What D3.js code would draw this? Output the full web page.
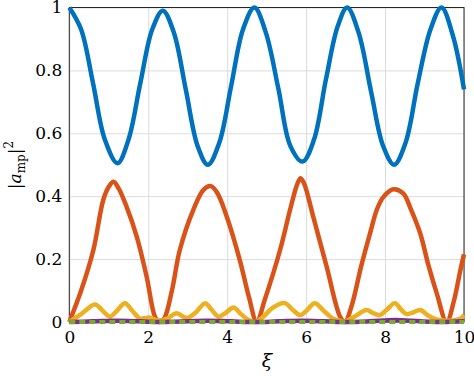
<!DOCTYPE html>
<html>
<head>
<meta charset="utf-8">
<script src="https://cdn.jsdelivr.net/npm/d3@7"></script>
<style>
  body { margin: 0; background: #fff; }
  text { font-family: "DejaVu Serif", serif; }
</style>
</head>
<body>
<div id="chart"></div>
<script>
// tick labels
const xiTicks = [0, 2, 4, 6, 8, 10]
const ampTicks = [0, 0.2, 0.4, 0.6, 0.8, 1]

// mode 1 (blue)
const blueXi  = [0, 0.3, 0.6, 0.9, 1.22, 1.5, 1.8, 2.1, 2.37, 2.65, 2.95, 3.25, 3.51, 3.8, 4.1, 4.4, 4.69, 4.98, 5.3, 5.6, 5.91, 6.2, 6.5, 6.8, 7.04, 7.33, 7.65, 7.95, 8.23, 8.52, 8.83, 9.15, 9.43, 9.72, 10]
const blueAmp = [1.0, 0.93, 0.76, 0.58, 0.505, 0.58, 0.76, 0.93, 0.99, 0.92, 0.74, 0.56, 0.50, 0.57, 0.75, 0.93, 1.0, 0.92, 0.74, 0.56, 0.51, 0.58, 0.77, 0.94, 1.0, 0.92, 0.73, 0.56, 0.50, 0.57, 0.76, 0.93, 1.0, 0.91, 0.74]

// mode 2 (orange)
const orangeXi  = [0, 0.3, 0.61, 0.86, 1.0, 1.12, 1.25, 1.45, 1.71, 1.96, 2.17, 2.28, 2.4, 2.6, 2.8, 3.14, 3.4, 3.59, 3.75, 3.99, 4.32, 4.55, 4.75, 4.95, 5.34, 5.6, 5.78, 5.86, 5.95, 6.18, 6.52, 6.86, 6.98, 7.15, 7.4, 7.62, 7.8, 7.96, 8.21, 8.46, 8.65, 8.89, 9.1, 9.31, 9.56, 9.75, 9.9, 10]
const orangeAmp = [0, 0.1, 0.229, 0.388, 0.43, 0.446, 0.425, 0.367, 0.271, 0.144, 0.017, 0, 0.01, 0.1, 0.229, 0.356, 0.42, 0.432, 0.41, 0.335, 0.197, 0.08, 0, 0.07, 0.229, 0.36, 0.44, 0.457, 0.44, 0.335, 0.176, 0.017, 0, 0.05, 0.18, 0.282, 0.36, 0.398, 0.422, 0.409, 0.36, 0.282, 0.18, 0.091, 0, 0.07, 0.16, 0.215]

// mode 3 (yellow)
const yellowXi  = [0, 0.3, 0.65, 0.85, 1.03, 1.2, 1.41, 1.6, 1.79, 1.95, 2.05, 2.2, 2.35, 2.5, 2.72, 2.9, 3.0, 3.2, 3.44, 3.6, 3.78, 3.95, 4.16, 4.35, 4.5, 4.7, 4.9, 5.15, 5.46, 5.65, 5.85, 6.0, 6.22, 6.45, 6.69, 6.85, 6.98, 7.2, 7.53, 7.7, 7.87, 8.05, 8.25, 8.4, 8.55, 8.7, 8.89, 9.1, 9.3, 9.45, 9.7, 9.9, 10]
const yellowAmp = [0, 0.025, 0.056, 0.035, 0.017, 0.035, 0.06, 0.035, 0.011, 0.013, 0.014, 0.006, 0.006, 0.012, 0.028, 0.016, 0.013, 0.03, 0.06, 0.04, 0.017, 0.028, 0.046, 0.025, 0.01, 0, 0.015, 0.045, 0.06, 0.04, 0.022, 0.035, 0.06, 0.035, 0.01, 0.004, 0.002, 0.015, 0.038, 0.028, 0.022, 0.04, 0.06, 0.04, 0.025, 0.03, 0.038, 0.02, 0.008, 0.005, 0.005, 0.01, 0.022]

// mode 4 (purple)
const purpleXi  = [0, 0.6, 1.2, 1.8, 2.3, 3.0, 3.5, 4.1, 4.7, 5.3, 5.9, 6.5, 7.0, 7.6, 8.25, 8.9, 9.5, 10]
const purpleAmp = [0, 0.002, 0.004, 0.002, 0, 0.002, 0.004, 0.002, 0, 0.002, 0.004, 0.002, 0, 0.002, 0.006, 0.002, 0, 0.002]

// mode 5 (green, dashed)
const greenXi  = [0, 10]
const greenAmp = [0, 0]

const series = [
  { xi: blueXi,   amp: blueAmp,   color: "#0072BD", w: 4.5 },
  { xi: orangeXi, amp: orangeAmp, color: "#D95319", w: 4.5 },
  { xi: yellowXi, amp: yellowAmp, color: "#EDB120", w: 4.5 },
  { xi: purpleXi, amp: purpleAmp, color: "#7E2F8E", w: 4.5 },
  { xi: greenXi,  amp: greenAmp,  color: "#77AC30", w: 4, dash: "6,4" }
]

const width = 474, height = 376
const pLeft = 69.3, pRight = 464, pTop = 7.5, pBottom = 322

const x = d3.scaleLinear().domain([0, 10]).range([pLeft, pRight])
const y = d3.scaleLinear().domain([0, 1]).range([pBottom, pTop])

const svg = d3.select("#chart").append("svg")
    .attr("width", width)
    .attr("height", height)

// grid lines
svg.append("g")
    .attr("transform", "translate(0," + pBottom + ")")
    .call(d3.axisBottom(x).tickValues(xiTicks).tickSize(-(pBottom - pTop)).tickFormat(""))
    .call(g => g.select(".domain").remove())
    .call(g => g.selectAll(".tick line").attr("stroke", "#dcdcdc").attr("stroke-width", 1))

svg.append("g")
    .attr("transform", "translate(" + pLeft + ",0)")
    .call(d3.axisLeft(y).tickValues(ampTicks).tickSize(-(pRight - pLeft)).tickFormat(""))
    .call(g => g.select(".domain").remove())
    .call(g => g.selectAll(".tick line").attr("stroke", "#dcdcdc").attr("stroke-width", 1))

// box
svg.append("rect")
    .attr("x", pLeft).attr("y", pTop)
    .attr("width", pRight - pLeft).attr("height", pBottom - pTop)
    .attr("fill", "none")
    .attr("stroke", "#262626")
    .attr("stroke-width", 1)

// tick labels
svg.append("g")
    .attr("transform", "translate(0," + pBottom + ")")
    .call(d3.axisBottom(x).tickValues(xiTicks).tickSize(0).tickPadding(9).tickFormat(d => String(d)))
    .call(g => g.select(".domain").remove())
    .call(g => g.selectAll("text").attr("font-size", "17px").attr("fill", "#000"))

svg.append("g")
    .attr("transform", "translate(" + pLeft + ",0)")
    .call(d3.axisLeft(y).tickValues(ampTicks).tickSize(0).tickPadding(7).tickFormat(d => String(d)))
    .call(g => g.select(".domain").remove())
    .call(g => g.selectAll("text").attr("font-size", "17px").attr("fill", "#000"))

// lines
const line = d3.line().curve(d3.curveCatmullRom.alpha(0.5))

series.forEach(function(s) {
  const pts = s.xi.map((v, i) => [x(v), y(s.amp[i])])
  svg.append("path")
      .attr("d", line(pts))
      .attr("fill", "none")
      .attr("stroke", s.color)
      .attr("stroke-width", s.w)
      .attr("stroke-linejoin", "round")
      .attr("stroke-dasharray", s.dash || null)
})

// axis labels
svg.append("text")
    .attr("x", 267)
    .attr("y", 367)
    .attr("text-anchor", "middle")
    .attr("font-size", "19px")
    .attr("font-style", "italic")
    .text("ξ")

const ylab = svg.append("text")
    .attr("transform", "translate(21,165) rotate(-90)")
    .attr("text-anchor", "middle")
    .attr("font-size", "17px")
ylab.append("tspan").text("|")
ylab.append("tspan").attr("font-style", "italic").text("a")
ylab.append("tspan").attr("font-size", "12px").attr("dy", 4).text("mp")
ylab.append("tspan").attr("dy", -4).text("|")
ylab.append("tspan").attr("font-size", "12px").attr("dy", -8).text("2")
</script>
</body>
</html>
